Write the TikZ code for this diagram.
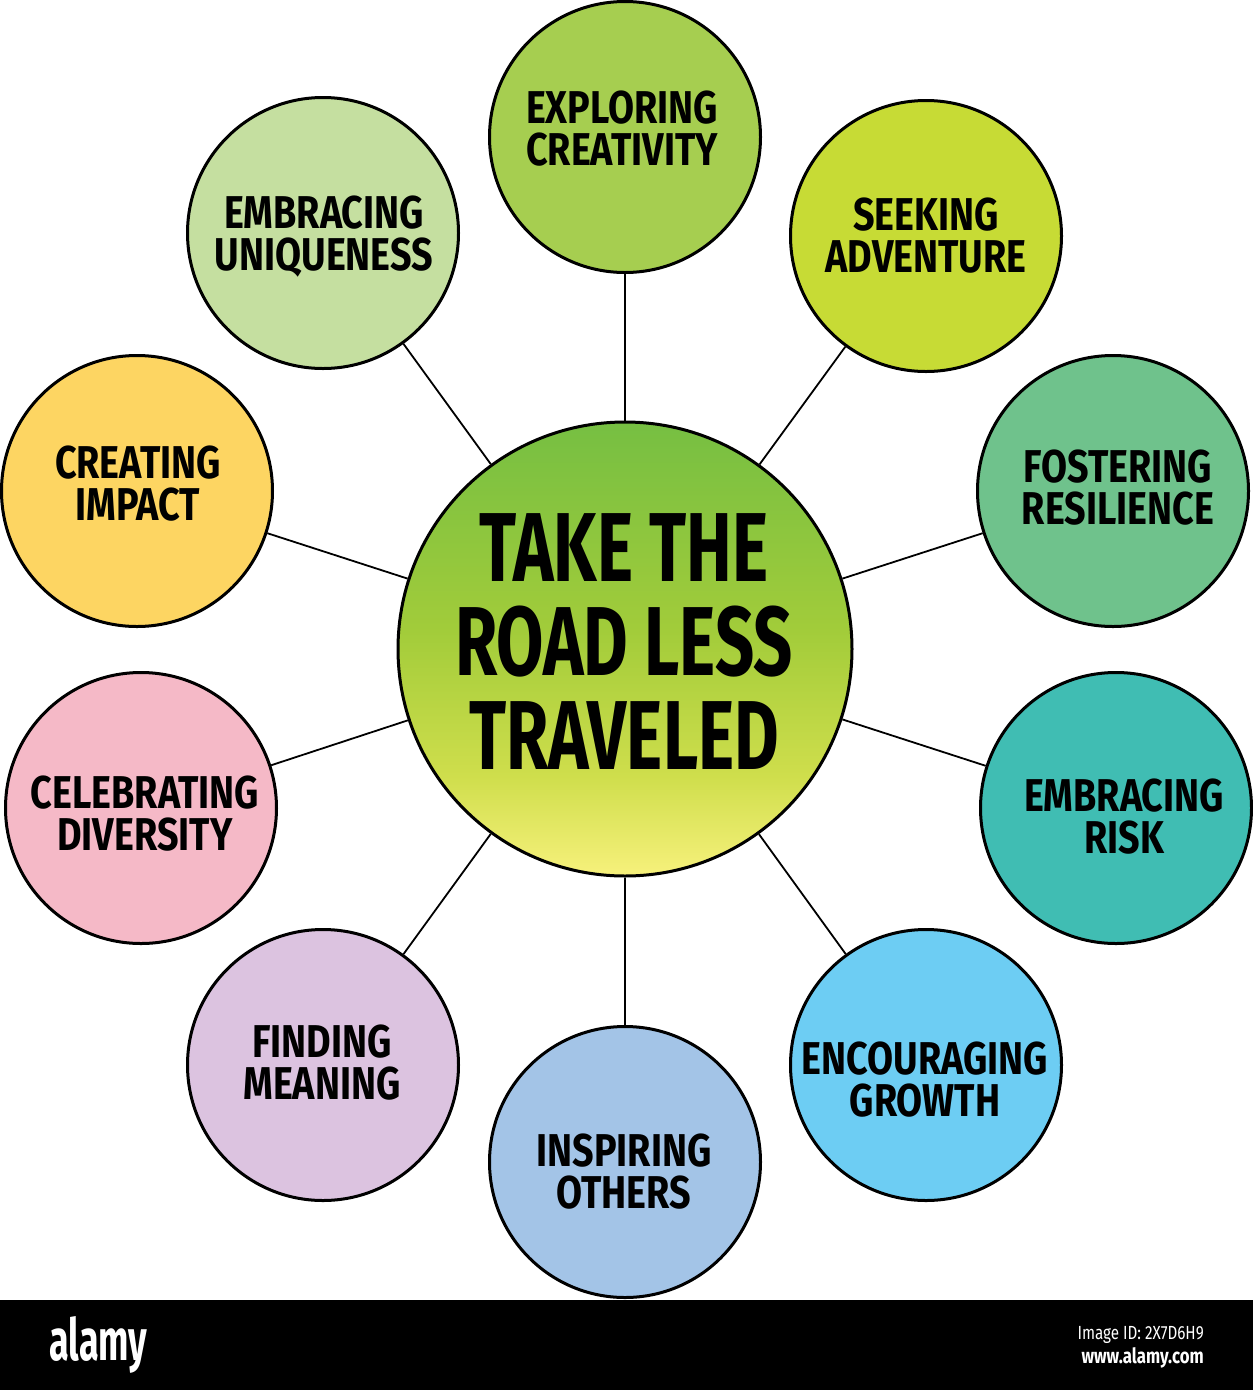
\documentclass[tikz,border=0pt]{standalone}
\usepackage{fontspec}
\newfontfamily\hand[FakeStretch=0.82]{Fira Sans}
\newfontfamily\centerfont[FakeStretch=0.7]{Fira Sans}
\newfontfamily\wmfont[FakeStretch=0.62]{Fira Sans}
\newfontfamily\wmsmall[FakeStretch=0.8]{Fira Sans}
\definecolor{cExplore}{HTML}{A6CE50}
\definecolor{cSeek}{HTML}{C7DB35}
\definecolor{cFoster}{HTML}{6FC28C}
\definecolor{cRisk}{HTML}{40BDB3}
\definecolor{cGrowth}{HTML}{6DCDF3}
\definecolor{cInspire}{HTML}{A3C4E7}
\definecolor{cFind}{HTML}{DCC3E0}
\definecolor{cCelebr}{HTML}{F5B9C7}
\definecolor{cCreate}{HTML}{FDD562}
\definecolor{cUnique}{HTML}{C5DFA0}
\definecolor{cTop}{HTML}{76BF42}
\definecolor{cMid}{HTML}{A2CC3A}
\definecolor{cLow}{HTML}{CFDE4C}
\definecolor{cBot}{HTML}{F7F17C}
\pgfdeclareverticalshading{centershade}{100bp}{color(0bp)=(cBot); color(25bp)=(cBot); color(36bp)=(cLow); color(52bp)=(cMid); color(75bp)=(cTop); color(100bp)=(cTop)}
\begin{document}
\begin{tikzpicture}[x=1pt,y=-1pt,
  bubble/.style={circle,draw=black,line width=3pt,minimum size=271pt,inner sep=0pt},
  hub/.style={circle,draw=black,line width=3pt,minimum size=454pt,inner sep=0pt,shading=centershade},
  lab/.style={font={\hand\bfseries\fontsize{46}{42}\selectfont},align=center,text=black,inner sep=0pt},
  hublab/.style={font={\centerfont\bfseries\fontsize{98}{94}\selectfont},align=center,text=black,inner sep=0pt},
  link/.style={line width=1.8pt,draw=black}]
\useasboundingbox (0,0) rectangle (1253,1390);
\fill[white] (0,0) rectangle (1253,1390);

% hub
\node[hub] (C) at (625,649) {};
% outer bubbles
\node[bubble,fill=cExplore] (B1) at (625,137) {};
\node[bubble,fill=cSeek] (B2) at (926,236) {};
\node[bubble,fill=cFoster] (B3) at (1113,491) {};
\node[bubble,fill=cRisk] (B4) at (1116,808) {};
\node[bubble,fill=cGrowth] (B5) at (926,1065) {};
\node[bubble,fill=cInspire] (B6) at (625,1162) {};
\node[bubble,fill=cFind] (B7) at (323,1065) {};
\node[bubble,fill=cCelebr] (B8) at (141,808) {};
\node[bubble,fill=cCreate] (B9) at (137,491) {};
\node[bubble,fill=cUnique] (B10) at (323,233) {};

% connectors
\foreach \b in {B1,B2,B3,B4,B5,B6,B7,B8,B9,B10}
  \draw[link] (C) -- (\b);

% labels
\node[hublab] (tC) at (624,642) {TAKE THE\\ROAD LESS\\TRAVELED};
\node[lab] (t1) at (622,129) {EXPLORING\\CREATIVITY};
\node[lab] (t2) at (926,236) {SEEKING\\ADVENTURE};
\node[lab] (t3) at (1118,488) {FOSTERING\\RESILIENCE};
\node[lab] (t4) at (1124,817) {EMBRACING\\RISK};
\node[lab] (t5) at (925,1080) {ENCOURAGING\\GROWTH};
\node[lab] (t6) at (624,1172) {INSPIRING\\OTHERS};
\node[lab] (t7) at (322,1063) {FINDING\\MEANING};
\node[lab] (t8) at (145,814) {CELEBRATING\\DIVERSITY};
\node[lab] (t9) at (138,484) {CREATING\\IMPACT};
\node[lab] (t10) at (324,237) {EMBRACING\\UNIQUENESS};

% bottom bar
\fill[black] (0,1300) rectangle (1253,1390);
\node[anchor=base west,text=white,inner sep=0pt,font={\wmfont\bfseries\fontsize{58}{58}\selectfont}] (wm) at (49,1360) {alamy};
\node[anchor=base east,text=white,inner sep=0pt,font={\wmsmall\fontsize{19}{19}\selectfont}] (wid) at (1204,1339) {Image ID: 2X7D6H9};
\node[anchor=base east,text=white,inner sep=0pt,font={\wmsmall\bfseries\fontsize{21}{21}\selectfont}] (wurl) at (1204,1363) {www.alamy.com};
\end{tikzpicture}
\end{document}
